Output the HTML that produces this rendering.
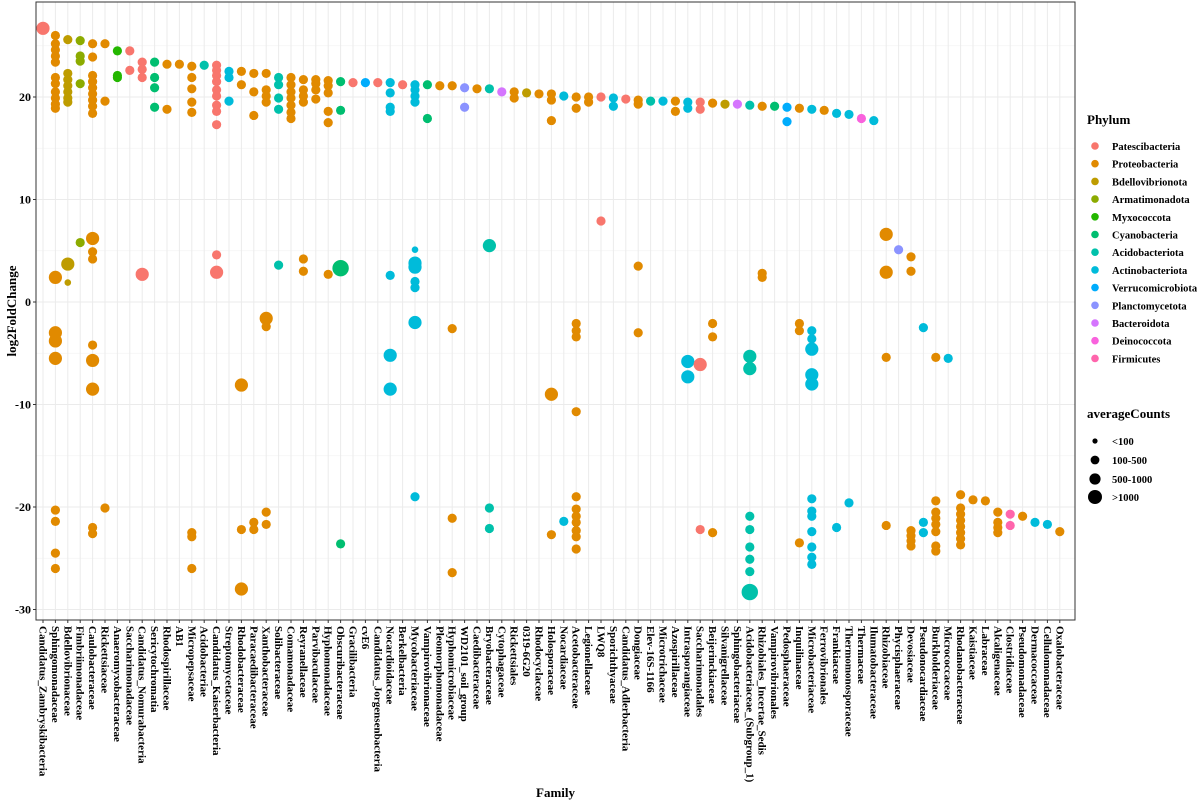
<!DOCTYPE html>
<html><head><meta charset="utf-8">
<style>
html,body{margin:0;padding:0;background:#fff;}
svg text{font-family:"Liberation Serif",serif;font-weight:bold;fill:#000;}
</style></head>
<body>
<svg id="chart" width="1200" height="802" viewBox="0 0 1200 802" xmlns="http://www.w3.org/2000/svg">
<g id="grid"></g><g id="pts"></g><g id="axes"></g><g id="legend"></g>
</svg>
<script>
const families=["Candidatus_Zambryskibacteria","Sphingomonadaceae","Bdellovibrionaceae","Fimbriimonadaceae","Caulobacteraceae","Rickettsiaceae","Anaeromyxobacteraceae","Saccharimonadaceae","Candidatus_Nomurabacteria","Sericytochromatia","Rhodospirillaceae","AB1","Micropepsaceae","Acidobacteriae","Candidatus_Kaiserbacteria","Streptomycetaceae","Rhodobacteraceae","Paracaedibacteraceae","Xanthobacteraceae","Solibacteraceae","Comamonadaceae","Reyranellaceae","Parvibaculaceae","Hyphomonadaceae","Obscuribacteraceae","Gracilibacteria","cvE6","Candidatus_Jorgensenbacteria","Nocardioidaceae","Berkelbacteria","Mycobacteriaceae","Vampirovibrionaceae","Pleomorphomonadaceae","Hyphomicrobiaceae","WD2101_soil_group","Caedibacteraceae","Bryobacteraceae","Cytophagaceae","Rickettsiales","0319-6G20","Rhodocyclaceae","Holosporaceae","Nocardiaceae","Acetobacteraceae","Legionellaceae","LWQ8","Sporichthyaceae","Candidatus_Adlerbacteria","Dongiaceae","Elev-16S-1166","Microtrichaceae","Azospirillaceae","Intrasporangiaceae","Saccharimonadales","Beijerinckiaceae","Silvanigrellaceae","Sphingobacteriaceae","Acidobacteriaceae_(Subgroup_1)","Rhizobiales_Incertae_Sedis","Vampirovibrionales","Pedosphaeraceae","Inquilinaceae","Microbacteriaceae","Ferrovibrionales","Frankiaceae","Thermomonosporaceae","Thermaceae","Ilumatobacteraceae","Rhizobiaceae","Phycisphaeraceae","Devosiaceae","Pseudonocardiaceae","Burkholderiaceae","Micrococcaceae","Rhodanobacteraceae","Kaistiaceae","Labraceae","Alcaligenaceae","Clostridiaceae","Pseudomonadaceae","Dermacoccaceae","Cellulomonadaceae","Oxalobacteraceae"];
const phyla=["Patescibacteria","Proteobacteria","Bdellovibrionota","Armatimonadota","Myxococcota","Cyanobacteria","Acidobacteriota","Actinobacteriota","Verrucomicrobiota","Planctomycetota","Bacteroidota","Deinococcota","Firmicutes"];
const phylaColors=["#F8766D","#E18A00","#BE9C00","#8CAB00","#24B700","#00BE70","#00C1AB","#00BBDA","#00ACFC","#8B93FF","#D575FE","#F962DD","#FF65AC"];
const sizeLabels=["<100","100-500","500-1000",">1000"];
const yTicks=[20,10,0,-10,-20,-30];
// [familyIndex(1-based), log2FoldChange, phylumIndex, sizeClass(1-4)]
const points=[
[1,26.7,0,3],
[2,26,1,2],[2,25.2,1,2],[2,24.6,1,2],[2,24,1,2],[2,23.4,1,2],[2,21.9,1,2],[2,21.3,1,2],[2,20.5,1,2],[2,19.9,1,2],[2,19.3,1,2],[2,18.9,1,2],[2,2.4,1,3],[2,-3,1,3],[2,-3.8,1,3],[2,-5.5,1,3],[2,-20.3,1,2],[2,-21.4,1,2],[2,-24.5,1,2],[2,-26,1,2],
[3,25.6,2,2],[3,22.3,2,2],[3,21.7,2,2],[3,21.1,2,2],[3,20.5,2,2],[3,19.9,2,2],[3,19.5,2,2],[3,3.7,2,3],[3,1.9,2,1],
[4,25.5,3,2],[4,24,3,2],[4,23.5,3,2],[4,21.3,3,2],[4,5.8,3,2],
[5,25.2,1,2],[5,23.9,1,2],[5,22.1,1,2],[5,21.5,1,2],[5,20.9,1,2],[5,20.3,1,2],[5,19.7,1,2],[5,19.1,1,2],[5,18.4,1,2],[5,6.2,1,3],[5,4.9,1,2],[5,4.2,1,2],[5,-4.2,1,2],[5,-5.7,1,3],[5,-8.5,1,3],[5,-22,1,2],[5,-22.6,1,2],
[6,25.2,1,2],[6,19.6,1,2],[6,-20.1,1,2],
[7,24.5,4,2],[7,22.1,4,2],[7,21.9,4,2],
[8,24.5,0,2],[8,22.6,0,2],
[9,23.4,0,2],[9,22.7,0,2],[9,21.9,0,2],[9,2.7,0,3],
[10,23.4,5,2],[10,21.9,5,2],[10,20.9,5,2],[10,19,5,2],
[11,23.2,1,2],[11,18.8,1,2],
[12,23.2,1,2],
[13,23,1,2],[13,21.9,1,2],[13,20.8,1,2],[13,19.5,1,2],[13,18.5,1,2],[13,-22.5,1,2],[13,-22.9,1,2],[13,-26,1,2],
[14,23.1,6,2],
[15,23.1,0,2],[15,22.6,0,2],[15,22.1,0,2],[15,21.5,0,2],[15,20.7,0,2],[15,20.1,0,2],[15,19.2,0,2],[15,18.6,0,2],[15,17.3,0,2],[15,4.6,0,2],[15,2.9,0,3],
[16,22.5,7,2],[16,21.9,7,2],[16,19.6,7,2],
[17,22.5,1,2],[17,21.2,1,2],[17,-8.1,1,3],[17,-22.2,1,2],[17,-28,1,3],
[18,22.3,1,2],[18,20.5,1,2],[18,18.2,1,2],[18,-21.5,1,2],[18,-22.2,1,2],
[19,22.3,1,2],[19,20.7,1,2],[19,20.1,1,2],[19,19.5,1,2],[19,-1.6,1,3],[19,-2.4,1,2],[19,-20.5,1,2],[19,-21.7,1,2],
[20,21.9,6,2],[20,21.2,6,2],[20,19.9,6,2],[20,18.8,6,2],[20,3.6,6,2],
[21,21.9,1,2],[21,21.2,1,2],[21,20.5,1,2],[21,19.9,1,2],[21,19.2,1,2],[21,18.5,1,2],[21,17.9,1,2],
[22,21.7,1,2],[22,20.7,1,2],[22,20.1,1,2],[22,19.5,1,2],[22,4.2,1,2],[22,3,1,2],
[23,21.7,1,2],[23,21.3,1,2],[23,20.7,1,2],[23,19.8,1,2],
[24,21.6,1,2],[24,21.1,1,2],[24,20.4,1,2],[24,18.6,1,2],[24,17.5,1,2],[24,2.7,1,2],
[25,21.5,5,2],[25,18.7,5,2],[25,3.3,5,4],[25,-23.6,5,2],
[26,21.4,0,2],[27,21.4,8,2],[28,21.4,0,2],
[29,21.4,7,2],[29,20.4,7,2],[29,19,7,2],[29,18.6,7,2],[29,2.6,7,2],[29,-5.2,7,3],[29,-8.5,7,3],
[30,21.2,0,2],
[31,21.2,7,2],[31,20.7,7,2],[31,20.1,7,2],[31,19.5,7,2],[31,5.1,7,1],[31,3.8,7,3],[31,3.4,7,3],[31,2,7,2],[31,1.4,7,2],[31,-2,7,3],[31,-19,7,2],
[32,21.2,5,2],[32,17.9,5,2],
[33,21.1,1,2],
[34,21.1,1,2],[34,-2.6,1,2],[34,-21.1,1,2],[34,-26.4,1,2],
[35,20.9,9,2],[35,19,9,2],
[36,20.8,1,2],
[37,20.8,6,2],[37,5.5,6,3],[37,-20.1,6,2],[37,-22.1,6,2],
[38,20.5,10,2],
[39,20.5,1,2],[39,19.9,1,2],
[40,20.4,2,2],
[41,20.3,1,2],
[42,20.3,1,2],[42,19.7,1,2],[42,17.7,1,2],[42,-9,1,3],[42,-22.7,1,2],
[43,20.1,7,2],[43,-21.4,7,2],
[44,20,1,2],[44,18.9,1,2],[44,-2.1,1,2],[44,-2.8,1,2],[44,-3.4,1,2],[44,-10.7,1,2],[44,-19,1,2],[44,-20.2,1,2],[44,-20.9,1,2],[44,-21.5,1,2],[44,-22.3,1,2],[44,-22.9,1,2],[44,-24.1,1,2],
[45,20,1,2],[45,19.5,1,2],
[46,20,0,2],[46,7.9,0,2],
[47,19.9,7,2],[47,19.1,7,2],
[48,19.8,0,2],
[49,19.7,1,2],[49,19.3,1,2],[49,3.5,1,2],[49,-3,1,2],
[50,19.6,6,2],[51,19.6,7,2],
[52,19.6,1,2],[52,18.6,1,2],
[53,19.5,7,2],[53,18.9,7,2],[53,-5.8,7,3],[53,-7.3,7,3],
[54,19.5,0,2],[54,18.8,0,2],[54,-6.1,0,3],[54,-22.2,0,2],
[55,19.4,1,2],[55,-2.1,1,2],[55,-3.4,1,2],[55,-22.5,1,2],
[56,19.3,2,2],[57,19.3,10,2],
[58,19.2,6,2],[58,-5.3,6,3],[58,-6.5,6,3],[58,-20.9,6,2],[58,-22.2,6,2],[58,-23.9,6,2],[58,-25.1,6,2],[58,-26.3,6,2],[58,-28.3,6,4],
[59,19.1,1,2],[59,2.8,1,2],[59,2.4,1,2],
[60,19.1,5,2],
[61,19,8,2],[61,17.6,8,2],
[62,18.9,1,2],[62,-2.1,1,2],[62,-2.8,1,2],[62,-23.5,1,2],
[63,18.8,7,2],[63,-2.8,7,2],[63,-3.6,7,2],[63,-4.6,7,3],[63,-7.1,7,3],[63,-8,7,3],[63,-19.2,7,2],[63,-20.4,7,2],[63,-20.9,7,2],[63,-22.4,7,2],[63,-23.9,7,2],[63,-24.9,7,2],[63,-25.6,7,2],
[64,18.7,1,2],
[65,18.4,7,2],[65,-22,7,2],
[66,18.3,7,2],[66,-19.6,7,2],
[67,17.9,11,2],
[68,17.7,7,2],
[69,6.6,1,3],[69,2.9,1,3],[69,-5.4,1,2],[69,-21.8,1,2],
[70,5.1,9,2],
[71,4.4,1,2],[71,3,1,2],[71,-22.3,1,2],[71,-22.8,1,2],[71,-23.3,1,2],[71,-23.8,1,2],
[72,-2.5,7,2],[72,-21.5,7,2],[72,-22.5,7,2],
[73,-5.4,1,2],[73,-19.4,1,2],[73,-20.5,1,2],[73,-21.1,1,2],[73,-21.7,1,2],[73,-22.4,1,2],[73,-23.8,1,2],[73,-24.3,1,2],
[74,-5.5,7,2],
[75,-18.8,1,2],[75,-20.1,1,2],[75,-20.7,1,2],[75,-21.3,1,2],[75,-21.9,1,2],[75,-22.5,1,2],[75,-23.1,1,2],[75,-23.7,1,2],
[76,-19.3,1,2],
[77,-19.4,1,2],
[78,-20.5,1,2],[78,-21.5,1,2],[78,-22,1,2],[78,-22.5,1,2],
[79,-20.7,12,2],[79,-21.8,12,2],
[80,-20.9,1,2],
[81,-21.5,7,2],
[82,-21.7,7,2],
[83,-22.4,1,2]
];
const NS="http://www.w3.org/2000/svg";
const L=36,R=1075,T=2,B=620;
function xs(i){return 43+(i-1)*12.4;}
function ys(v){return 302-10.25*v;}
const rad=[0,3.3,4.6,6.6,8.2];
function mk(tag,attrs,parent){const e=document.createElementNS(NS,tag);for(const k in attrs)e.setAttribute(k,attrs[k]);parent.appendChild(e);return e;}
const grid=document.getElementById('grid'),pts=document.getElementById('pts'),axes=document.getElementById('axes'),leg=document.getElementById('legend');
mk('rect',{x:L,y:T,width:R-L,height:B-T,fill:'#fff'},grid);
for(let k=0;k<yTicks.length;k++){
  const v=yTicks[k];
  const gm=mk('line',{x1:L,x2:R,y1:ys(v+5),y2:ys(v+5),stroke:'#f4f4f4','stroke-width':0.8},grid);
  
  
  const g=mk('line',{x1:L,x2:R,y1:ys(v),y2:ys(v),stroke:'#ebebeb','stroke-width':1},grid);
  
  
  const t=mk('text',{x:L-5,y:ys(v)+4,'text-anchor':'end','font-size':12},axes);
  t.textContent=v;
  
  
  mk('line',{x1:L-3,x2:L,y1:ys(v),y2:ys(v),stroke:'#333'},axes);
}
families.forEach((f,i)=>{
  const x=xs(i+1);
  const g=mk('line',{x1:x,x2:x,y1:T,y2:B,stroke:'#ebebeb','stroke-width':1},grid);
  
  
  mk('line',{x1:x,x2:x,y1:B,y2:B+3,stroke:'#333'},axes);
  const t=mk('text',{x:0,y:0,'font-size':11,transform:`translate(${x-3.5},${B+6}) rotate(90)`},axes);
  t.textContent=f;
  
  
});
points.forEach(p=>{
  const c=mk('circle',{cx:xs(p[0]),cy:ys(p[1]),r:rad[p[3]],fill:phylaColors[p[2]]},pts);
  
  
});
const border=mk('rect',{x:L,y:T,width:R-L,height:B-T,fill:'none',stroke:'#333','stroke-width':1},axes);


const yt=mk('text',{x:0,y:0,'font-size':13,'text-anchor':'middle',transform:`translate(16,${(T+B)/2}) rotate(-90)`},axes);
yt.textContent='log2FoldChange';


const xt=mk('text',{x:(L+R)/2,y:797,'font-size':13,'text-anchor':'middle'},axes);
xt.textContent='Family';


const lt=mk('text',{x:1087,y:124,'font-size':13},leg);
lt.textContent='Phylum';


phyla.forEach((p,i)=>{
  const y=146+i*17.7;
  const c=mk('circle',{cx:1095,cy:y,r:3.8,fill:phylaColors[i]},leg);
  
  
  const t=mk('text',{x:1112,y:y+4,'font-size':10.5},leg);
  t.textContent=p;
  
  
});
const st=mk('text',{x:1087,y:418,'font-size':13},leg);
st.textContent='averageCounts';


const lr=[2.6,4.4,5.6,7];
const ly=[441,460,479,497];
sizeLabels.forEach((s,i)=>{
  const c=mk('circle',{cx:1095,cy:ly[i],r:lr[i],fill:'#000'},leg);
  
  
  const t=mk('text',{x:1112,y:ly[i]+4,'font-size':10.5},leg);
  t.textContent=s;
  
  
});
</script>
</body></html>
